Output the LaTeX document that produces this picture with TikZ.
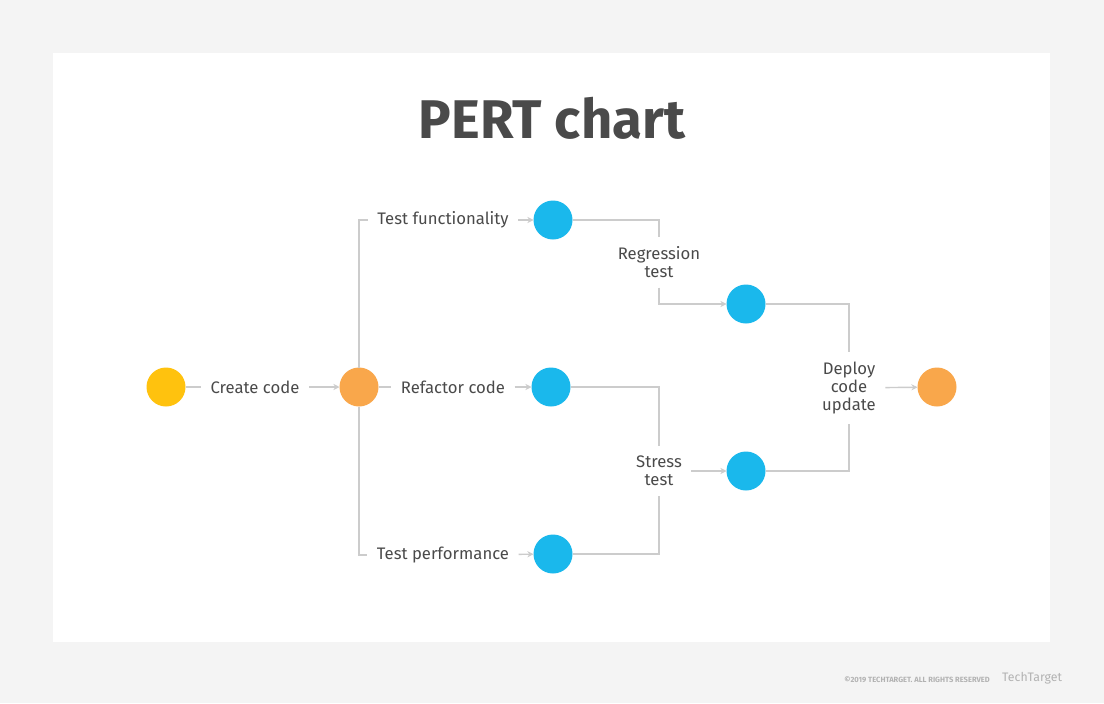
\documentclass[tikz,border=0pt]{standalone}
\usepackage{fontspec}
\setmainfont{Fira Sans}
\usetikzlibrary{arrows.meta}
\definecolor{lineg}{HTML}{CCCCCC}
\definecolor{txtg}{HTML}{4A4A4A}
\definecolor{yel}{HTML}{FFC20E}
\definecolor{ora}{HTML}{F9A74B}
\definecolor{blu}{HTML}{1AB8EC}
\tikzset{
  event/.style={circle,minimum size=39\pgfxu,inner sep=0pt,outer sep=0pt},
  lbl/.style={text=txtg,font=\fontsize{9.5}{10.5}\selectfont,align=center,inner sep=1.5pt,outer sep=4pt},
  link/.style={draw=lineg,line width=0.8pt},
  arr/.style={link,-{Stealth[length=3.5pt,width=3.5pt]}},
}
\newlength{\pgfxu}\setlength{\pgfxu}{0.02cm}
\begin{document}
\begin{tikzpicture}[x=0.02cm,y=-0.02cm]
\fill[gray!9] (0,0) rectangle (1104,703);
\fill[white] (53,53) rectangle (1050,642);
\useasboundingbox (0,0) rectangle (1104,703);
\node[text=txtg,font=\fontsize{31}{34}\bfseries\selectfont] (title) at (552,118) {PERT chart};
% events
\node[event,fill=yel] (start) at (166,387) {};
\node[event,fill=ora] (split) at (359,387) {};
\node[event,fill=blu] (func) at (553,220) {};
\node[event,fill=blu] (refac) at (551,387) {};
\node[event,fill=blu] (perf) at (553,554) {};
\node[event,fill=blu] (regr) at (746,304) {};
\node[event,fill=blu] (stress) at (746,471) {};
\node[event,fill=ora] (done) at (937,387) {};
% labels
\node[lbl] (create) at (255,387) {Create code};
\node[lbl] (lfunc) at (443,220) {Test functionality};
\node[lbl] (lrefac) at (453,387) {Refactor code};
\node[lbl] (lperf) at (443,555) {Test performance};
\node[lbl,fill=white] (lregr) at (659,262) {Regression\\test};
\node[lbl,fill=white] (lstress) at (659,471) {Stress\\test};
\node[lbl,fill=white] (ldeploy) at (849,388) {Deploy\\code\\update};
\coordinate (c1) at (659,220);
\coordinate (c2) at (659,387);
\coordinate (c3) at (659,554);
\coordinate (c4) at (849,304);
\coordinate (c5) at (849,471);
% connectors
\draw[link] (start) -- (create);
\draw[arr] (create) -- (split);
\draw[link] (split.north) |- (lfunc);
\draw[link] (split.south) |- (lperf);
\draw[link] (split) -- (lrefac);
\draw[arr] (lfunc) -- (func);
\draw[arr] (lrefac) -- (refac);
\draw[arr] (lperf) -- (perf);
\draw[link] (func) -- (c1) -- (lregr);
\draw[arr] (lregr) |- (regr);
\draw[link] (refac) -- (c2) -- (lstress);
\draw[link] (perf) -- (c3) -- (lstress);
\draw[arr] (lstress) -- (stress);
\draw[link] (regr) -- (c4) -- (ldeploy);
\draw[link] (stress) -- (c5) -- (ldeploy);
\draw[arr] (ldeploy) -- (done);
% footer
\node[text=gray!60,font=\fontsize{4.3}{5}\bfseries\selectfont,anchor=east] (copy) at (996,680) {©2019 TECHTARGET. ALL RIGHTS RESERVED};
\node[text=gray!60,font=\fontsize{7}{8}\selectfont,anchor=west] (brand) at (996,678) {TechTarget};
\end{tikzpicture}
\end{document}
